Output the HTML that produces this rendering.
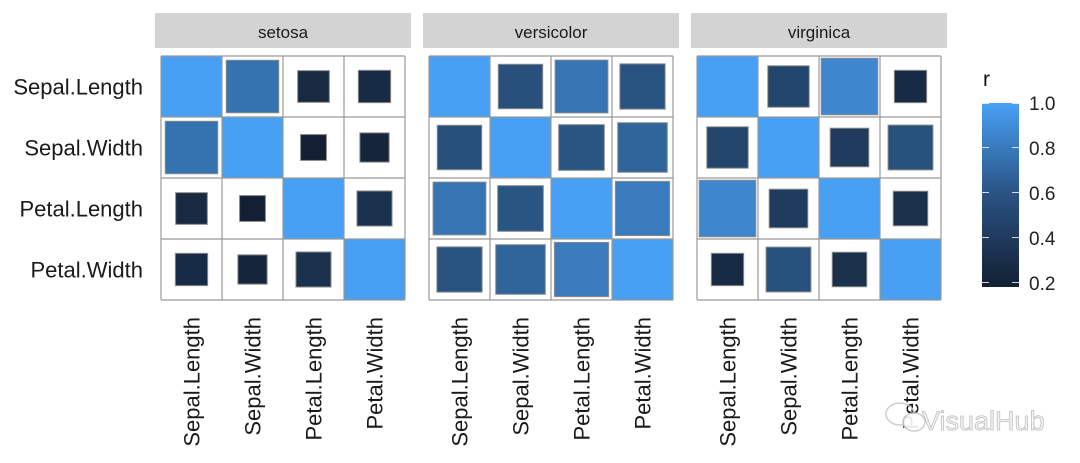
<!DOCTYPE html>
<html><head><meta charset="utf-8">
<style>
html,body{margin:0;padding:0;background:#fff;}
svg{display:block;font-family:"Liberation Sans",Arial,sans-serif;}
</style></head>
<body>
<svg id="s" width="1080" height="463" viewBox="0 0 1080 463" xmlns="http://www.w3.org/2000/svg">
<defs>
<linearGradient id="lg" x1="0" y1="1" x2="0" y2="0">
<stop offset="0" stop-color="#132033"/>
<stop offset="0.5" stop-color="#2a5282"/>
<stop offset="1" stop-color="#48a0f5"/>
</linearGradient>
</defs>
<rect x="0" y="0" width="1080" height="463" fill="#fff"/>
<g id="g"></g>
<text x="983" y="86" font-size="21" fill="#111">r</text>
<rect x="982" y="103" width="37" height="184" fill="url(#lg)"/>
<g stroke="#fff" stroke-width="1" opacity="0.8">
<line x1="982" y1="103.5" x2="989" y2="103.5"/><line x1="1012" y1="103.5" x2="1019" y2="103.5"/>
<line x1="982" y1="147.5" x2="989" y2="147.5"/><line x1="1012" y1="147.5" x2="1019" y2="147.5"/>
<line x1="982" y1="192.5" x2="989" y2="192.5"/><line x1="1012" y1="192.5" x2="1019" y2="192.5"/>
<line x1="982" y1="237.5" x2="989" y2="237.5"/><line x1="1012" y1="237.5" x2="1019" y2="237.5"/>
<line x1="982" y1="282.5" x2="989" y2="282.5"/><line x1="1012" y1="282.5" x2="1019" y2="282.5"/>
</g>
<g font-size="19" fill="#222">
<text x="1029" y="110">1.0</text>
<text x="1029" y="155">0.8</text>
<text x="1029" y="200">0.6</text>
<text x="1029" y="245">0.4</text>
<text x="1029" y="290">0.2</text>
</g>
<g opacity="0.9">
<ellipse cx="900" cy="414" rx="14" ry="11" fill="none" stroke="#c8c8c8" stroke-width="1.5"/>
<ellipse cx="914" cy="422" rx="11" ry="9" fill="#fff" stroke="#c8c8c8" stroke-width="1.5"/>
<text x="922" y="430" font-size="27" fill="#f4f4f4" stroke="#b8b8b8" stroke-width="0.8">VisualHub</text>
</g>
</svg>
<script>
(function(){
var NS="http://www.w3.org/2000/svg";
var g=document.getElementById("g");
function el(t,a,txt){var e=document.createElementNS(NS,t);for(var k in a)e.setAttribute(k,a[k]);if(txt)e.textContent=txt;g.appendChild(e);return e;}
var lo=[19,32,51],hi=[72,160,245];
function col(r){var t=(r-0.18)/(1-0.18);t=Math.max(0,Math.min(1,t));
 var c=lo.map(function(v,i){return Math.round(v+(hi[i]-v)*Math.pow(t,1.15));});
 return "rgb("+c.join(",")+")";}
var names=["Sepal.Length","Sepal.Width","Petal.Length","Petal.Width"];
var species=["setosa","versicolor","virginica"];
var C=[
 [[1,.74,.27,.28],[.74,1,.18,.23],[.27,.18,1,.33],[.28,.23,.33,1]],
 [[1,.53,.75,.55],[.53,1,.56,.66],[.75,.56,1,.79],[.55,.66,.79,1]],
 [[1,.46,.86,.28],[.46,1,.40,.54],[.86,.40,1,.32],[.28,.54,.32,1]]
];
var cw=61,y0=56;
for(var p=0;p<3;p++){
 var x0=161+p*268;
 el("rect",{x:x0-6,y:13,width:256,height:35,fill:"#d3d3d3"});
 el("text",{x:x0+122,y:38,"font-size":17,fill:"#1a1a1a","text-anchor":"middle"},species[p]);
 el("rect",{x:x0,y:y0,width:cw*4,height:cw*4,fill:"#fff"});
 for(var i=0;i<4;i++)for(var j=0;j<4;j++){
  var r=C[p][i][j],cx=x0+j*cw+cw/2,cy=y0+i*cw+cw/2;
  if(r>=1){el("rect",{x:x0+j*cw,y:y0+i*cw,width:cw,height:cw,fill:col(1)});}
  else{var s=Math.sqrt(r)*cw;
   el("rect",{x:cx-s/2,y:cy-s/2,width:s,height:s,fill:col(r),stroke:"#8a8a8a","stroke-width":1});}
 }
 for(var k=0;k<=4;k++){
  el("line",{x1:x0+k*cw,y1:y0,x2:x0+k*cw,y2:y0+4*cw,stroke:"#999","stroke-width":1.2});
  el("line",{x1:x0,y1:y0+k*cw,x2:x0+4*cw,y2:y0+k*cw,stroke:"#999","stroke-width":1.2});
 }
 for(var j=0;j<4;j++){
  var tx=x0+j*cw+cw/2+8;
  el("text",{x:0,y:0,"font-size":22,fill:"#1a1a1a","text-anchor":"end",transform:"translate("+tx+",317) rotate(-90)"},names[j]);
 }
}
for(var i=0;i<4;i++){
 el("text",{x:143,y:y0+i*cw+cw/2+8,"font-size":22,fill:"#1a1a1a","text-anchor":"end"},names[i]);
}
})();
</script>
</body></html>
